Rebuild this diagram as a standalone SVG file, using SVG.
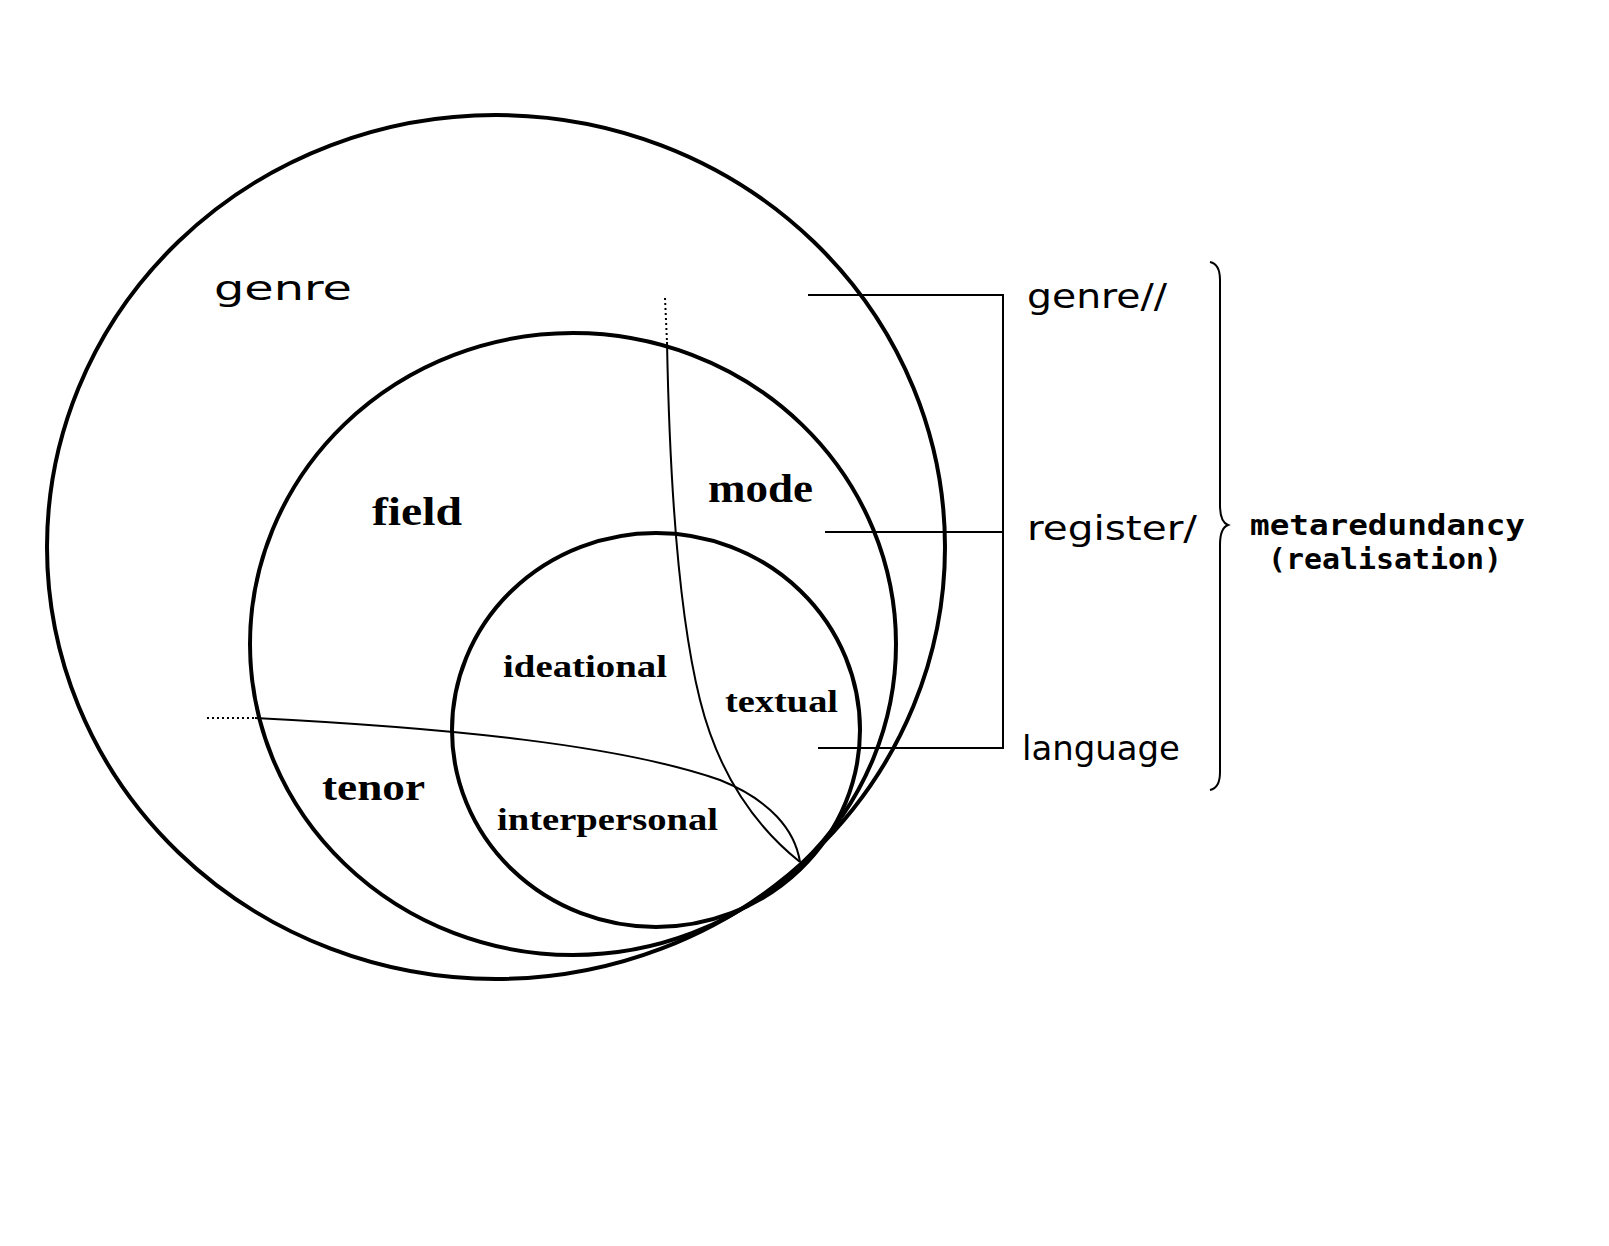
<svg xmlns="http://www.w3.org/2000/svg" width="1609" height="1246" viewBox="0 0 1609 1246">
<style>
.c{fill:none;stroke:#000;stroke-width:4}
.l{fill:none;stroke:#000;stroke-width:2}
.d{fill:none;stroke:#000;stroke-width:2;stroke-dasharray:2 3}
.s{font-family:"DejaVu Sans",sans-serif;font-size:34px;fill:#000}
.t{font-family:"Liberation Serif",serif;font-weight:bold;fill:#000}
.m{font-family:"DejaVu Sans Mono","Liberation Mono",monospace;font-weight:bold;font-size:28px;fill:#000}
</style>
<rect width="1609" height="1246" fill="#fff"/>
<g id="genre"><ellipse class="c" cx="496" cy="547" rx="449" ry="432"/><text class="s" x="214" y="300" font-size="42" textLength="138" lengthAdjust="spacingAndGlyphs">genre</text></g>
<g id="register"><ellipse class="c" cx="573" cy="644" rx="323" ry="311"/>
<text class="t" x="372" y="525" font-size="40" textLength="90" lengthAdjust="spacingAndGlyphs">field</text>
<text class="t" x="708" y="502" font-size="40" textLength="105" lengthAdjust="spacingAndGlyphs">mode</text>
<text class="t" x="322" y="800" font-size="38" textLength="103" lengthAdjust="spacingAndGlyphs">tenor</text></g>
<g id="language"><ellipse class="c" cx="656" cy="730" rx="204" ry="197"/>
<text class="t" x="503" y="677" font-size="31" textLength="164" lengthAdjust="spacingAndGlyphs">ideational</text>
<text class="t" x="725" y="712" font-size="31" textLength="113" lengthAdjust="spacingAndGlyphs">textual</text>
<text class="t" x="497" y="830" font-size="31" textLength="221" lengthAdjust="spacingAndGlyphs">interpersonal</text></g>
<g id="connectors">
<path class="d" d="M665 298 L667 342"/>
<path class="l" d="M667 342 C670 500 680 620 700 700 C720 780 760 830 800 862"/>
<path class="d" d="M207 718 L255 718"/>
<path class="l" d="M255 718 C450 728 620 745 720 780 C770 800 795 830 800 862"/>
<path class="l" d="M808 295 H1003 V748 H818 M825 532 H1003"/>
<path class="l" d="M1210 262 Q1220 264 1220 280 V505 Q1220 522 1228 525 Q1220 528 1220 545 V772 Q1220 788 1210 790"/>
</g>
<g id="labels">
<text class="s" x="1027" y="308" textLength="140" lengthAdjust="spacingAndGlyphs">genre//</text>
<text class="s" x="1027" y="540" textLength="170" lengthAdjust="spacingAndGlyphs">register/</text>
<text class="s" x="1022" y="760" textLength="158" lengthAdjust="spacingAndGlyphs">language</text>
<text class="m" x="1250" y="535" textLength="275" lengthAdjust="spacingAndGlyphs">metaredundancy</text>
<text class="m" x="1268" y="569" textLength="234" lengthAdjust="spacingAndGlyphs">(realisation)</text>
</g>
</svg>
